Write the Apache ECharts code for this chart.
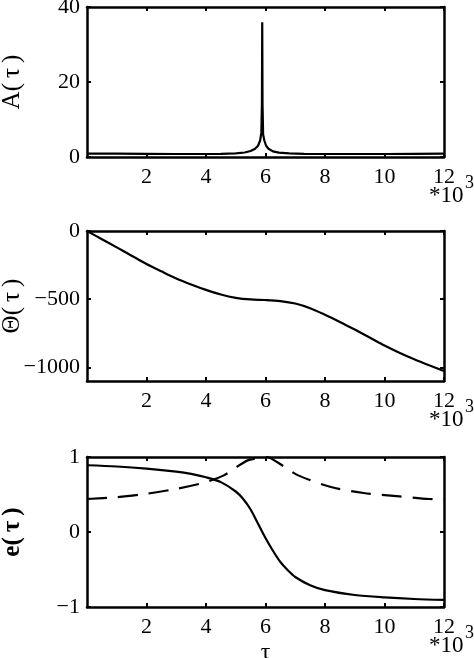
<!DOCTYPE html>
<html>
<head>
<meta charset="utf-8">
<script src="https://cdn.jsdelivr.net/npm/echarts@6/dist/echarts.min.js"></script>
<style>html,body{margin:0;padding:0;background:#fff}#c{width:474px;height:658px}</style>
</head>
<body>
<div id="c"></div>
<script>
// tau in units of 10^3
var tauA = [0,1,2,3,4,4.5,5,5.3,5.5,5.65,5.75,5.82,5.86,5.88,5.89,5.9,5.92,5.96,6.02,6.1,6.25,6.45,6.8,7.3,8,9,10,11,12];
var valA = [0.9,0.9,0.85,0.8,0.8,0.85,0.95,1.2,1.6,2.2,3.0,4.4,6.5,14,35.9,14,6,4.4,3,2.2,1.5,1.15,0.95,0.85,0.8,0.8,0.8,0.85,0.9];

var tauTheta = [0,0.5,1,1.5,2,2.5,3,3.5,4,4.5,5,5.5,6,6.5,7,7.5,8,8.5,9,9.5,10,10.5,11,11.5,12];
var valTheta = [0,-60,-120,-181,-242,-296,-348,-392,-432,-466,-490,-502,-506,-514,-532,-566,-614,-667,-723,-781,-840,-893,-941,-985,-1027];

var tauE1 = [0,1,2,3,3.5,4,4.5,5,5.25,5.5,5.75,6,6.25,6.5,6.75,7,7.5,8,9,10,11,12];
var valE1 = [0.89,0.873,0.845,0.805,0.775,0.73,0.665,0.54,0.44,0.30,0.11,-0.08,-0.25,-0.40,-0.51,-0.60,-0.71,-0.775,-0.84,-0.872,-0.893,-0.905];

var tauE2 = [0,1,2,3,4,4.6,5,5.4,5.8,6.05,6.4,7.1,8.2,9.3,10.5,11.5,12];
var valE2 = [0.44,0.465,0.51,0.575,0.665,0.755,0.86,0.955,0.99,1.0,0.93,0.755,0.60,0.52,0.475,0.44,0.435];

var xTicks = [2,4,6,8,10,12];
var yTicksA = [0,20,40];
var yTicksTheta = [-1000,-500,0];
var yTicksE = [-1,0,1];
var yNames = ['A(\u2009τ\u2009)','Θ(\u2009τ\u2009)','e(\u2009τ\u2009)'];
var xName = 'τ';
var scaleText = '*10';
var scaleExp = '3';

function pairs(xs, ys){ return xs.map(function(x,i){ return [x, ys[i]]; }); }

var FONT = 'Liberation Serif';
var grids = [
  {left:87, right:30, top:7, height:150, containLabel:false, outerBoundsMode:'none'},
  {left:87, right:30, top:231, height:150, containLabel:false, outerBoundsMode:'none'},
  {left:87, right:30, top:457, height:150, containLabel:false, outerBoundsMode:'none'}
];
var yRanges = [[0,40,yTicksA],[-1100,0,yTicksTheta],[-1,1,yTicksE]];
var AXW = 2.5;

var xAxes = [], yAxes = [];
grids.forEach(function(g, i){
  xAxes.push({
    type:'value', gridIndex:i, min:0, max:12, position:'bottom',
    axisLine:{show:true, onZero:false, lineStyle:{color:'#000', width:AXW}},
    axisTick:{show:true, inside:true, length:4, lineStyle:{color:'#000', width:2}, customValues:xTicks},
    axisLabel:{color:'#000', fontFamily:FONT, fontSize:22, margin:9, customValues:xTicks},
    splitLine:{show:false},
    name: i===2 ? xName : '', nameLocation:'middle', nameGap:34, nameMoveOverlap:false,
    nameTextStyle:{color:'#000', fontFamily:FONT, fontSize:24}
  });
  xAxes.push({
    type:'value', gridIndex:i, min:0, max:12, position:'top',
    axisLine:{show:true, onZero:false, lineStyle:{color:'#000', width:AXW}},
    axisTick:{show:true, inside:true, length:4, lineStyle:{color:'#000', width:2}, customValues:xTicks},
    axisLabel:{show:false}, splitLine:{show:false}
  });
  var r = yRanges[i];
  yAxes.push({
    type:'value', gridIndex:i, min:r[0], max:r[1], position:'left',
    axisLine:{show:true, onZero:false, lineStyle:{color:'#000', width:AXW}},
    axisTick:{show:true, inside:true, length:4, lineStyle:{color:'#000', width:2}, customValues:r[2]},
    axisLabel:{color:'#000', fontFamily:FONT, fontSize:22, margin:7, customValues:r[2],
      formatter:function(v){ return String(v).replace('-', '\u2212'); }},
    splitLine:{show:false},
    name: yNames[i], nameLocation:'middle', nameGap:62, nameMoveOverlap:false,
    nameTextStyle:{color:'#000', fontFamily:FONT, fontSize:25, fontWeight: i===2 ? 'bold' : 'normal'}
  });
  yAxes.push({
    type:'value', gridIndex:i, min:r[0], max:r[1], position:'right',
    axisLine:{show:true, onZero:false, lineStyle:{color:'#000', width:AXW}},
    axisTick:{show:true, inside:true, length:4, lineStyle:{color:'#000', width:2}, customValues:r[2]},
    axisLabel:{show:false}, splitLine:{show:false}
  });
});

function line(data, gi, opts){
  return Object.assign({
    type:'line', xAxisIndex:gi*2, yAxisIndex:gi*2, data:data,
    showSymbol:false, symbol:'none', animation:false,
    lineStyle:{color:'#000', width:2.2}
  }, opts||{});
}

var graphics = [];
grids.forEach(function(g){
  var b = g.top + g.height;
  graphics.push({type:'text', left:429, top:b+27, style:{text:scaleText, fill:'#000', font:'23px "'+FONT+'"'}});
  graphics.push({type:'text', left:465, top:b+17, style:{text:scaleExp, fill:'#000', font:'18px "'+FONT+'"'}});
});

var chart = echarts.init(document.getElementById('c'), null, {renderer:'canvas'});
chart.setOption({
  backgroundColor:'#fff',
  animation:false,
  grid:grids,
  xAxis:xAxes,
  yAxis:yAxes,
  series:[
    line(pairs(tauA, valA), 0),
    line(pairs(tauTheta, valTheta), 1, {smooth:0.3}),
    line(pairs(tauE1, valE1), 2, {smooth:0.3}),
    line(pairs(tauE2, valE2), 2, {smooth:0.25, lineStyle:{color:'#000', width:2.2, type:[20,11]}})
  ],
  graphic:graphics
});
</script>
</body>
</html>
